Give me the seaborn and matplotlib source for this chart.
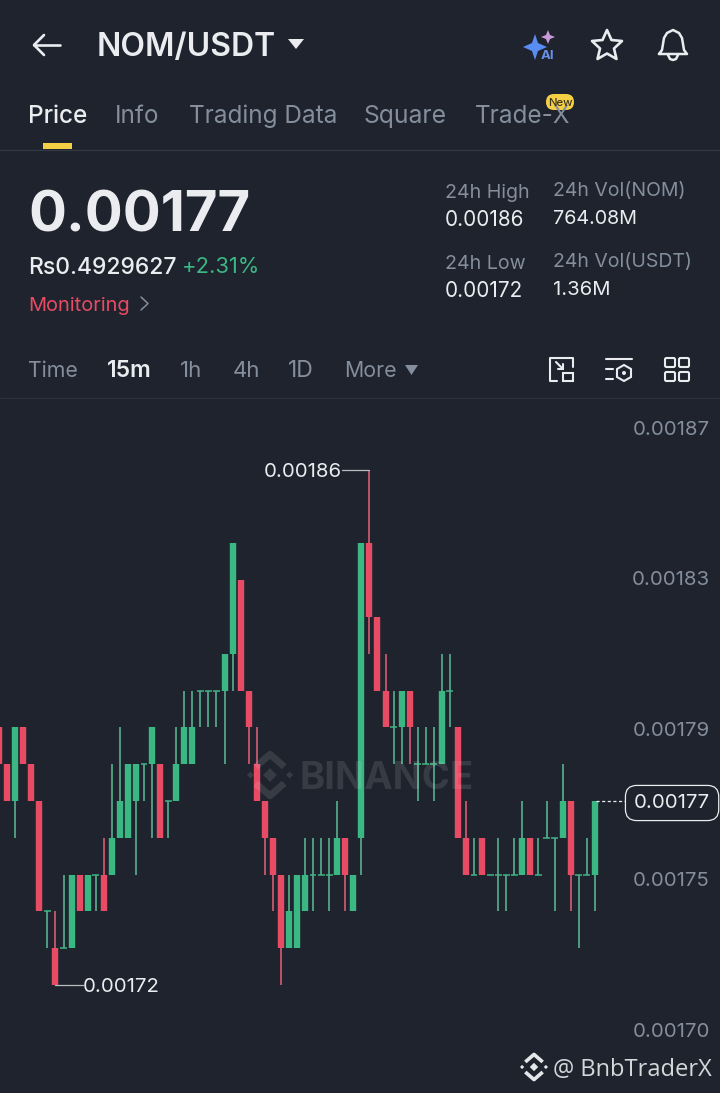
import pandas as pd
import matplotlib.pyplot as plt
from matplotlib.lines import Line2D
from matplotlib.patches import Polygon, Rectangle, FancyBboxPatch, Circle
import seaborn as sns

# 15m candles, prices in units of 0.00001 USDT
opens = [179, 178, 177, 179, 178, 177, 174, 173, 173, 173, 175, 174, 175, 175, 175,
         176, 176, 177, 178, 178, 178, 177, 177, 178, 178, 180, 180, 180, 180, 181,
         183, 180, 178, 177, 176, 175, 173, 173, 174, 175, 175, 175, 175, 176, 174,
         176, 184, 182, 180, 179, 179, 180, 178, 178, 178, 178, 180, 179, 176, 175,
         176, 175, 175, 175, 175, 175, 176, 175, 176, 176, 176, 177, 175, 175, 175]
closes = [178, 177, 179, 178, 177, 174, 174, 172, 173, 175, 174, 175, 175, 174, 176,
          177, 178, 178, 178, 179, 176, 177, 178, 179, 179, 180, 180, 180, 181, 184,
          180, 179, 177, 176, 175, 173, 174, 175, 175, 175, 175, 175, 176, 175, 175,
          184, 182, 180, 179, 179, 180, 179, 178, 178, 178, 180, 180, 176, 175, 175,
          175, 175, 175, 175, 175, 176, 175, 175, 176, 176, 177, 175, 175, 175, 177]
highs = [179, 178, 179, 179, 178, 177, 174, 174, 175, 175, 175, 175, 175, 176, 178,
         179, 178, 178, 178, 179, 178, 177, 179, 180, 180, 180, 180, 180, 181, 184,
         183, 180, 179, 177, 176, 175, 175, 175, 176, 176, 176, 176, 177, 176, 175,
         184, 186, 182, 181, 180, 180, 180, 179, 179, 179, 181, 181, 179, 177, 176,
         176, 175, 176, 175, 176, 177, 176, 176, 177, 176, 178, 177, 175, 176, 177]
lows = [178, 177, 176, 178, 177, 174, 173, 172, 173, 173, 174, 174, 174, 174, 175,
        176, 176, 175, 177, 176, 176, 176, 177, 178, 178, 179, 179, 179, 178, 180,
        180, 178, 177, 175, 174, 172, 173, 173, 174, 174, 175, 174, 175, 174, 174,
        175, 181, 180, 179, 178, 178, 178, 177, 178, 177, 178, 179, 176, 175, 175,
        175, 175, 174, 174, 175, 175, 175, 175, 176, 174, 176, 174, 173, 175, 174]

y_tick_values = [187.14, 183.06, 178.96, 174.88, 170.78]
y_tick_labels = ['0.00187', '0.00183', '0.00179', '0.00175', '0.00170']
high_candle, high_value, high_label = 46, 186, '0.00186'
low_candle, low_value, low_label = 7, 172, '0.00172'
last_value, last_label = 177, '0.00177'

BG = '#1e232d'
GREEN = '#3bb784'
RED = '#e84b64'
WHITE = '#eaecef'
GREY = '#848e9c'
YELLOW = '#f5d044'

sns.set_theme(style='dark', rc={'axes.facecolor': BG, 'figure.facecolor': BG})
plt.rcParams['font.family'] = ['Inter', 'DejaVu Sans']

candles = pd.DataFrame({'candle': range(len(opens)), 'open': opens, 'close': closes,
                        'high': highs, 'low': lows})
candles['side'] = ['down' if c < o else 'up' for o, c in zip(opens, closes)]
colors = {'up': GREEN, 'down': RED}
wick_colors = {'up': '#55ab8c', 'down': '#cf5a70'}

wicks = candles.melt(id_vars=['candle', 'side'], value_vars=['low', 'high'], value_name='price')
solid = candles[candles['open'] != candles['close']]
bodies = solid.melt(id_vars=['candle', 'side'], value_vars=['open', 'close'], value_name='price')
flats = candles[candles['open'] == candles['close']]

fig = plt.figure(figsize=(7.2, 10.93), dpi=100)

# chart occupies pixel rows 400-1093, full width
ax = fig.add_axes([0, 0, 1, 693 / 1093])
ui = fig.add_axes([0, 0, 1, 1], zorder=3)
ui.set_xlim(0, 720)
ui.set_ylim(1093, 0)
ui.axis('off')
ui.patch.set_alpha(0)

sns.lineplot(data=wicks, x='candle', y='price', units='candle', hue='side', palette=wick_colors,
             estimator=None, sort=False, legend=False, linewidth=1.25,
             solid_capstyle='butt', ax=ax)
sns.lineplot(data=bodies, x='candle', y='price', units='candle', hue='side', palette=colors,
             estimator=None, sort=False, legend=False, linewidth=4.6,
             solid_capstyle='butt', ax=ax)
sns.scatterplot(data=flats, x='candle', y='open', hue='side', palette=colors, marker='_',
                s=24, linewidth=1.1, legend=False, ax=ax)

ax.set_xlim(0.9 / 8.05, 720.9 / 8.05)
ax.set_ylim(177 - 292 / 36.8, 177 + 401 / 36.8)
ax.set_xticks([])
ax.set_xlabel('')
ax.set_ylabel('')
ax.grid(False)
for s in ax.spines.values():
    s.set_visible(False)
ax.yaxis.tick_right()
ax.set_yticks(y_tick_values)
ax.set_yticklabels(y_tick_labels, ha='right', color=GREY, fontsize=14.7)
ax.tick_params(axis='y', length=0, pad=-7.2)

# high / low / last price markers
ax.plot([high_candle, high_candle - 3.4], [high_value, high_value], color='#b9bdc4', lw=0.9)
ax.annotate(high_label, (high_candle - 3.4, high_value), ha='right', va='center_baseline',
            color=WHITE, fontsize=14.7)
ax.plot([low_candle, low_candle + 3.4], [low_value, low_value], color='#b9bdc4', lw=0.9)
ax.annotate(low_label, (low_candle + 3.4, low_value), ha='left', va='center_baseline',
            color=WHITE, fontsize=14.7)
ax.plot([74.2, 77.7], [last_value, last_value], color=WHITE, lw=0.9, ls=(0, (2.5, 2)))
ax.annotate(last_label, (83.6, last_value), ha='center', va='center_baseline', color=WHITE, fontsize=14.7,
            bbox=dict(boxstyle='round,pad=0.42,rounding_size=0.55', fc=BG, ec=WHITE, lw=0.9))


def label(x, y, s, color=WHITE, size=14, weight='normal', ha='left', family=None):
    t = ui.text(x, y, s, color=color, fontsize=size, fontweight=weight, ha=ha, va='baseline')
    if family:
        t.set_family(family)
    return t


def stroke(xs, ys, color=WHITE, lw=1.6):
    ui.add_line(Line2D(xs, ys, color=color, lw=lw, solid_capstyle='round', solid_joinstyle='round'))


def binance_logo(cx, cy, r, color, alpha=1.0, lw=2.0):
    # centre diamond, two chevrons and the side dots
    def diamond(dx, dy, size):
        ui.add_patch(Polygon([(cx + dx, cy + dy - size), (cx + dx + size, cy + dy),
                              (cx + dx, cy + dy + size), (cx + dx - size, cy + dy)],
                             fc=color, ec='none', alpha=alpha))
    diamond(0, 0, r * 0.3)
    diamond(-r * 0.85, 0, r * 0.15)
    diamond(r * 0.85, 0, r * 0.15)
    for sign in (-1, 1):
        ui.add_line(Line2D([cx - r * 0.62, cx, cx + r * 0.62],
                           [cy + sign * r * 0.36, cy + sign * r * 0.9, cy + sign * r * 0.36],
                           color=color, lw=lw, alpha=alpha, solid_capstyle='butt'))


# watermark sits faintly over the candles
ui.text(300, 775, 'BINANCE', color='white', alpha=0.11, fontsize=27.5, fontweight='bold',
        va='center_baseline', ha='left')
binance_logo(270, 775, 23, 'white', alpha=0.11, lw=5)

# header
stroke([34, 60], [45, 45], lw=1.9)
stroke([44, 34, 44], [35, 45, 55], lw=1.9)
label(97, 56, 'NOM/USDT', size=23, weight='semibold')
ui.add_patch(Polygon([(288, 39), (304, 39), (296, 49)], fc=WHITE, ec='none'))
ui.add_patch(Polygon([(535, 34), (538, 43), (547, 47), (538, 51), (535, 60), (532, 51), (523, 47), (532, 43)],
                     fc='#5a8df2', ec='none'))
ui.add_patch(Polygon([(548, 30), (550, 35), (555, 37), (550, 39), (548, 44), (546, 39), (541, 37), (546, 35)],
                     fc='#c99ad8', ec='none'))
label(541, 59, 'AI', color='#6a8fe8', size=9.5, weight='bold')
star = [(607, 30), (611.5, 40), (622, 41), (614, 48.5), (616.5, 59), (607, 53.5), (597.5, 59), (600, 48.5), (592, 41), (602.5, 40)]
ui.add_patch(Polygon(star, fc='none', ec=WHITE, lw=1.9, joinstyle='round'))
stroke([659, 662, 663, 664, 667, 673, 679, 682, 683, 684, 687, 659],
       [54, 50, 44, 38, 33, 30, 33, 38, 44, 50, 54, 54], lw=1.8)
stroke([668, 670, 673, 676, 678], [55, 59, 60, 59, 55], lw=1.8)

# tabs
label(28, 123, 'Price', size=17.5, weight='medium')
label(115, 123, 'Info', color=GREY, size=17.5)
label(189, 123, 'Trading Data', color=GREY, size=17.5)
label(364, 123, 'Square', color=GREY, size=17.8)
label(475, 123, 'Trade-X', color=GREY, size=17.5)
ui.add_patch(FancyBboxPatch((546, 94), 28, 16, boxstyle='round,pad=0,rounding_size=8', fc=YELLOW, ec='none'))
label(560, 106, 'New', color='#3a3320', size=8.2, weight='medium', ha='center')
ui.add_patch(Rectangle((43, 143), 29, 6, fc=YELLOW, ec='none'))
ui.add_line(Line2D([0, 720], [149.5, 149.5], color='#343a45', lw=0.9))

# price block
label(28, 232, '0.00177', size=40.5, weight='bold')
label(28, 274, 'Rs0.4929627', size=16.5, weight='medium')
label(182, 273, '+2.31%', color=GREEN, size=15.8)
label(28, 311, 'Monitoring', color=RED, size=14.4)
stroke([141, 148, 141], [297, 303.5, 310], color=GREY, lw=1.1)
label(445, 198, '24h High', color=GREY, size=14.1)
label(445, 226, '0.00186', size=14.9)
label(553, 196, '24h Vol(NOM)', color=GREY, size=14)
label(553, 224, '764.08M', size=14.2)
label(445, 269, '24h Low', color=GREY, size=14.1)
label(445, 297, '0.00172', size=14.9)
label(553, 267, '24h Vol(USDT)', color=GREY, size=14)
label(553, 295, '1.36M', size=14.6)

# interval row
label(28, 377, 'Time', color=GREY, size=15.3)
label(107, 377, '15m', size=16.5, weight='semibold')
label(180, 377, '1h', color=GREY, size=16)
label(233, 377, '4h', color=GREY, size=16)
label(288, 377, '1D', color=GREY, size=16.5)
label(344, 377, 'More', color=GREY, size=15.3)
ui.add_patch(Polygon([(405, 365), (418, 365), (411.5, 375)], fc=GREY, ec='none'))
stroke([558, 550, 550, 557], [358, 358, 381, 381], lw=1.5)
stroke([558, 573, 573], [358, 358, 367], lw=1.5)
ui.add_patch(Rectangle((563, 373), 10, 8, fc='none', ec=WHITE, lw=1.5))
stroke([556, 563], [362, 369], lw=1.5)
stroke([563, 563, 558], [364, 369, 369], lw=1.5)
stroke([606, 632], [359, 359], lw=1.5)
stroke([606, 613], [369, 369], lw=1.5)
stroke([606, 613], [379, 379], lw=1.5)
ui.add_patch(Polygon([(624, 365), (631, 369), (631, 377), (624, 381), (617, 377), (617, 369)],
                     fc='none', ec=WHITE, lw=1.5))
ui.add_patch(Circle((624, 373), 2, fc=WHITE, ec='none'))
for gx in (665, 679):
    for gy in (358, 372):
        ui.add_patch(FancyBboxPatch((gx, gy), 10, 9, boxstyle='round,pad=0,rounding_size=1.5',
                                    fc='none', ec=WHITE, lw=1.5))
ui.add_line(Line2D([0, 720], [398, 398], color='#2b313b', lw=0.9))

# repost credit
binance_logo(534, 1067, 14, '#e6e7e9', lw=2.6)
label(553, 1076, '@ BnbTraderX', color='#d5d7da', size=17, family='Open Sans')

plt.savefig('out.png', dpi=100, facecolor=BG)
